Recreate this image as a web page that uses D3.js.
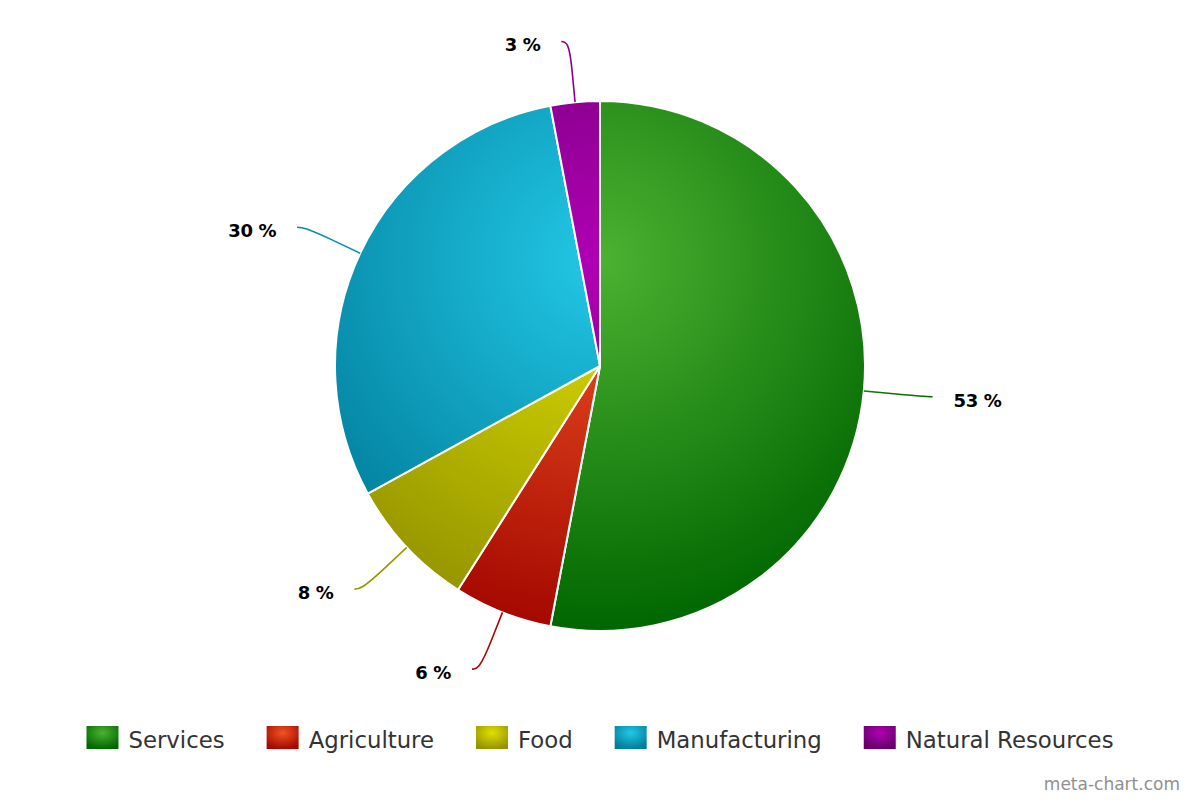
<!DOCTYPE html>
<html>
<head>
<meta charset="utf-8">
<script src="https://cdn.jsdelivr.net/npm/d3@7"></script>
<style>
  body { margin: 0; background: #fff; }
  svg { display: block; }
</style>
</head>
<body>
<div class="pie-holder"></div>
<script>
var categories = ["Services", "Agriculture", "Food", "Manufacturing", "Natural Resources"];
var shares = [53, 6, 8, 30, 3];
var lightColors = ["#4cb232", "#f05424", "#e0e000", "#22c8e6", "#b000b4"];
var darkColors = ["#006600", "#a40800", "#949400", "#007c9a", "#640068"];

plotPie();

function plotPie(){
    var width = 1200, height = 800;
    var cx = 600, cy = 366, radius = 265;
    var labelRadius = 326, labelShift = 8, breakOffset = 30;

    var svg = d3.select(".pie-holder")
          .append("svg")
          .attr("width", width)
          .attr("height", height);

    svg.append("rect").attr("width", width).attr("height", height).attr("fill", "#fff");

    var defs = svg.append("defs");

    // one gradient per slice, spread over the whole pie (highcharts style),
    // in the coordinates of the translated pie group
    categories.forEach(function(c, i){
        var g = defs.append("radialGradient")
            .attr("id", "slice-grad-" + i)
            .attr("gradientUnits", "userSpaceOnUse")
            .attr("cx", 0).attr("cy", -radius + 0.3 * 2 * radius)
            .attr("r", 0.7 * 2 * radius);
        g.append("stop").attr("offset", "0").attr("stop-color", lightColors[i]);
        g.append("stop").attr("offset", "1").attr("stop-color", darkColors[i]);

        var lg = defs.append("radialGradient")
            .attr("id", "legend-grad-" + i)
            .attr("cx", 0.5).attr("cy", 0.3).attr("r", 0.7);
        lg.append("stop").attr("offset", "0").attr("stop-color", lightColors[i]);
        lg.append("stop").attr("offset", "1").attr("stop-color", darkColors[i]);
    });

    var pie = d3.pie().sort(null).value(function(d){ return d; })
        .startAngle(0).endAngle(2 * Math.PI);
    var arcs = pie(shares);

    var arc = d3.arc().innerRadius(0).outerRadius(radius);

    var grp = svg.append("g").attr("transform", `translate(${cx}, ${cy})`);

    grp.selectAll("path.slice")
        .data(arcs)
      .enter().append("path")
        .attr("class", "slice")
        .attr("d", arc)
        .attr("fill", function(d, i){ return "url(#slice-grad-" + i + ")"; })
        .attr("stroke", "#fff")
        .attr("stroke-width", 2)
        .attr("stroke-linejoin", "round");

    // connectors + data labels
    var labels = grp.append("g");
    arcs.forEach(function(d, i){
        var a = (d.startAngle + d.endAngle) / 2;
        var sx = Math.sin(a), sy = -Math.cos(a);
        var right = sx >= 0;
        var touch = [radius * sx, radius * sy];
        var brk = [(radius + breakOffset) * sx, (radius + breakOffset) * sy];
        var lab = [labelRadius * sx + (right ? labelShift : -labelShift), labelRadius * sy];

        var p = d3.path();
        p.moveTo(lab[0], lab[1]);
        p.bezierCurveTo(lab[0] + (right ? -5 : 5), lab[1],
            2 * brk[0] - touch[0], 2 * brk[1] - touch[1],
            brk[0], brk[1]);
        p.lineTo(touch[0], touch[1]);

        labels.append("path")
            .attr("d", p.toString())
            .attr("fill", "none")
            .attr("stroke", "url(#slice-grad-" + i + ")")
            .attr("stroke-width", 1.6);

        labels.append("text")
            .attr("x", lab[0] + (right ? 21 : -21))
            .attr("y", lab[1] + 10)
            .attr("text-anchor", right ? "start" : "end")
            .style("font-family", "'DejaVu Sans', sans-serif")
            .style("font-weight", "bold")
            .style("font-size", "18px")
            .style("letter-spacing", "-0.4px")
            .attr("fill", "#000")
            .text(shares[i] + " %");
    });

    // legend, one row, centred
    var symbolW = 32, symbolH = 23, symbolPad = 10, itemDistance = 42;
    var legend = svg.append("g").attr("class", "legend");
    var items = legend.selectAll("g.item")
        .data(categories)
      .enter().append("g")
        .attr("class", "item");
    items.append("rect")
        .attr("width", symbolW).attr("height", symbolH)
        .attr("y", 726)
        .attr("fill", function(d, i){ return "url(#legend-grad-" + i + ")"; });
    items.append("text")
        .attr("x", symbolW + symbolPad)
        .attr("y", 748)
        .style("font-family", "'DejaVu Sans', sans-serif")
        .style("font-size", "22.8px")
        .attr("fill", "#333")
        .text(function(d){ return d; });

    var widths = [];
    items.each(function(){
        widths.push(symbolW + symbolPad + d3.select(this).select("text").node().getComputedTextLength());
    });
    var total = d3.sum(widths) + itemDistance * (widths.length - 1);
    var xPos = (width - total) / 2;
    items.attr("transform", function(d, i){
        var t = `translate(${xPos}, 0)`;
        xPos += widths[i] + itemDistance;
        return t;
    });

    svg.append("text")
        .attr("x", 1180).attr("y", 790)
        .attr("text-anchor", "end")
        .style("font-family", "'DejaVu Sans', sans-serif")
        .style("font-size", "17px")
        .attr("fill", "#909090")
        .text("meta-chart.com");
}
</script>
</body>
</html>
